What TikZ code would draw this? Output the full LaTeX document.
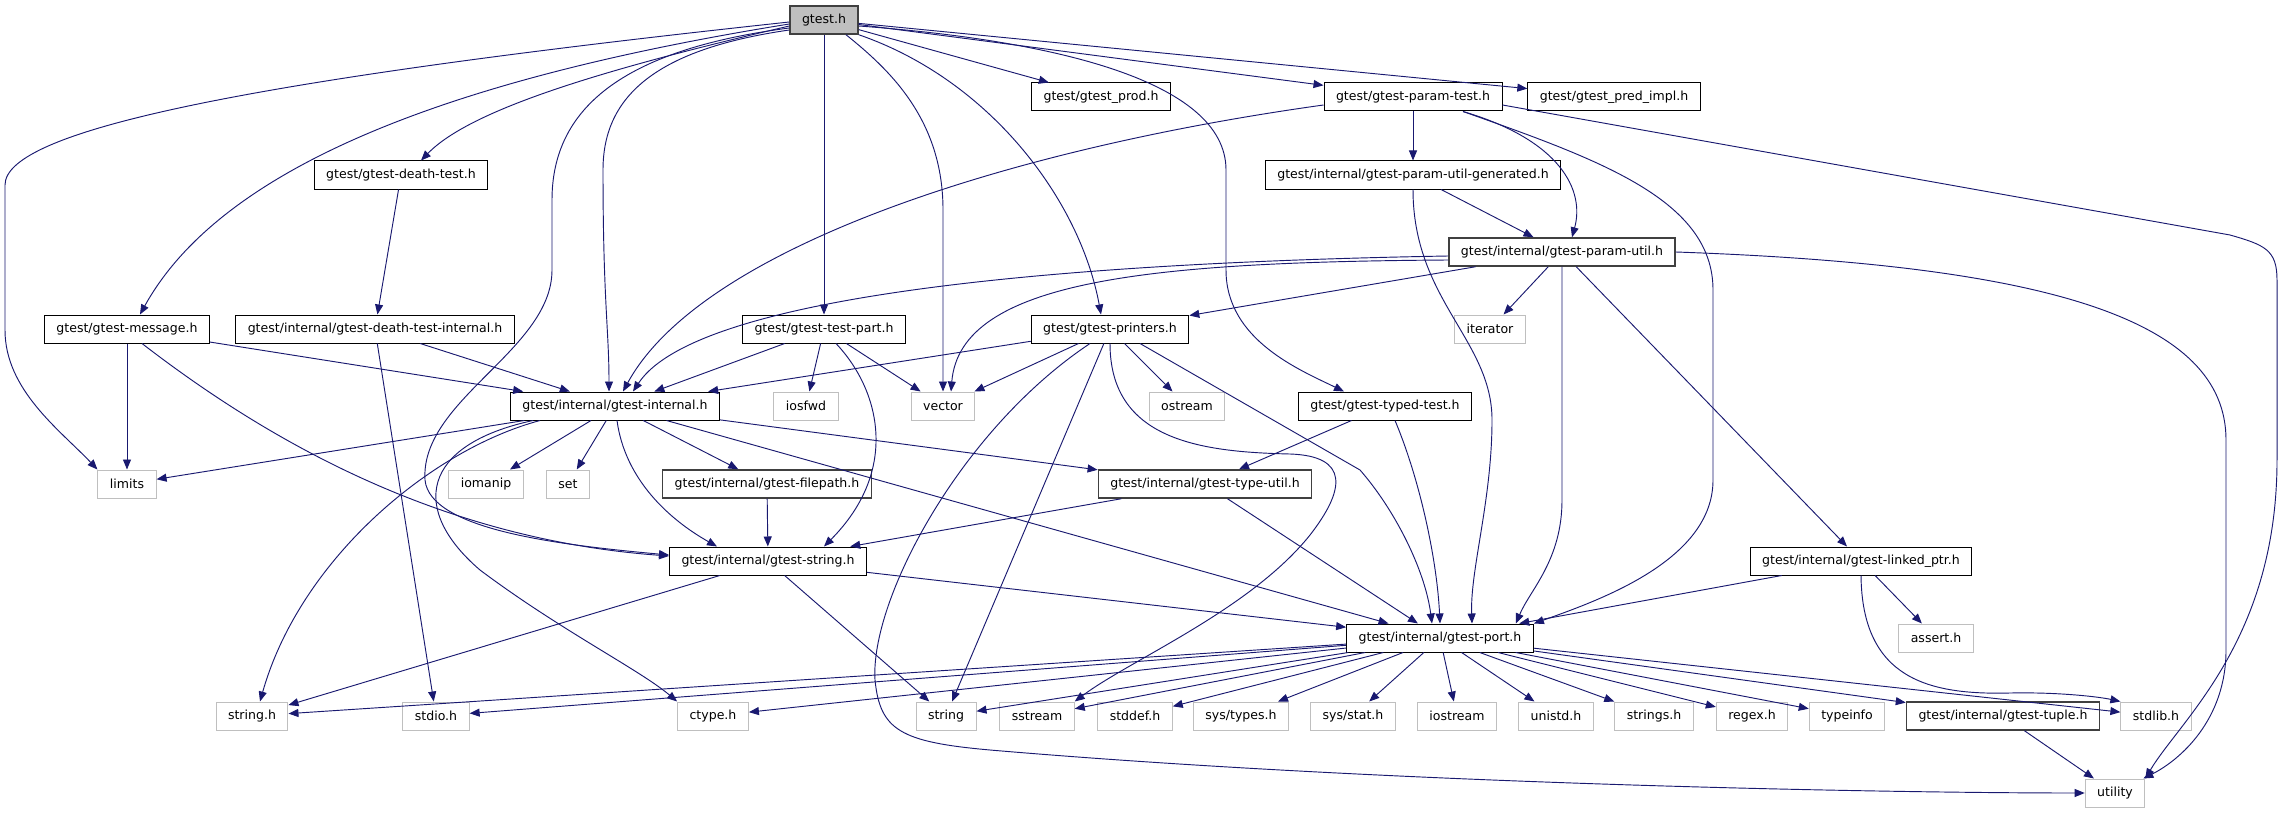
\documentclass[tikz,border=0pt]{standalone}
\usepackage{fontspec}
\setmainfont{DejaVu Sans}
\usetikzlibrary{arrows.meta,calc}
\definecolor{edgeblue}{HTML}{191970}
\definecolor{sysgray}{HTML}{BFBFBF}
\definecolor{darkborder}{HTML}{404040}

\begin{document}
\begin{tikzpicture}[x=0.75pt,y=-0.75pt,>={Triangle[length=7.5pt,width=6pt]},
  filebox/.style={rectangle,minimum height=21pt,inner xsep=9pt,inner ysep=0pt,
    font=\fontsize{9.4}{11}\selectfont,line width=0.75pt,fill=white},
  hdr/.style={filebox,draw=black},
  hdrdk/.style={filebox,draw=darkborder,line width=1.1pt},
  sys/.style={filebox,draw=sysgray},
  root/.style={filebox,draw=darkborder,fill=sysgray,line width=1.1pt},
  dep/.style={->,color=edgeblue,line width=0.7pt}]
  \useasboundingbox (0,0) rectangle (2283,813);
  \fill[white] (0,0) rectangle (2283,813);

  \node[root] (gtest) at (824,20) {gtest.h};
  \node[hdr] (prod) at (1101,97) {gtest/gtest\_prod.h};
  \node[hdr] (paramtest) at (1413,97) {gtest/gtest-param-test.h};
  \node[hdr] (predimpl) at (1614,97) {gtest/gtest\_pred\_impl.h};
  \node[hdr] (deathtest) at (401,175) {gtest/gtest-death-test.h};
  \node[hdr] (paramgen) at (1413,175) {gtest/internal/gtest-param-util-generated.h};
  \node[hdrdk] (paramutil) at (1562,252) {gtest/internal/gtest-param-util.h};
  \node[hdr] (message) at (127,329) {gtest/gtest-message.h};
  \node[hdr] (deathint) at (375,329) {gtest/internal/gtest-death-test-internal.h};
  \node[hdr] (testpart) at (824,329) {gtest/gtest-test-part.h};
  \node[hdr] (printers) at (1110,329) {gtest/gtest-printers.h};
  \node[sys] (iterator) at (1490,329) {iterator};
  \node[hdr] (internal) at (615,406) {gtest/internal/gtest-internal.h};
  \node[sys] (iosfwd) at (806,406) {iosfwd};
  \node[sys] (vector) at (943,406) {vector};
  \node[sys] (ostream) at (1187,406) {ostream};
  \node[hdr] (typedtest) at (1385,406) {gtest/gtest-typed-test.h};
  \node[sys] (limits) at (127,484) {limits};
  \node[sys] (iomanip) at (486,484) {iomanip};
  \node[sys] (set) at (568,484) {set};
  \node[hdrdk] (filepath) at (767,484) {gtest/internal/gtest-filepath.h};
  \node[hdrdk] (typeutil) at (1205,484) {gtest/internal/gtest-type-util.h};
  \node[hdr] (gstring) at (768,561) {gtest/internal/gtest-string.h};
  \node[hdr] (linkedptr) at (1861,561) {gtest/internal/gtest-linked\_ptr.h};
  \node[hdr] (port) at (1440,638) {gtest/internal/gtest-port.h};
  \node[sys] (assert) at (1936,638) {assert.h};
  \node[sys] (stringh) at (252,716) {string.h};
  \node[sys] (stdio) at (436,716) {stdio.h};
  \node[sys] (ctype) at (713,716) {ctype.h};
  \node[sys] (string) at (946,716) {string};
  \node[sys] (sstream) at (1037,716) {sstream};
  \node[sys] (stddef) at (1135,716) {stddef.h};
  \node[sys] (systypes) at (1241,716) {sys/types.h};
  \node[sys] (sysstat) at (1353,716) {sys/stat.h};
  \node[sys] (iostream) at (1457,716) {iostream};
  \node[sys] (unistd) at (1556,716) {unistd.h};
  \node[sys] (stringsh) at (1654,716) {strings.h};
  \node[sys] (regex) at (1752,716) {regex.h};
  \node[sys] (typeinfo) at (1847,716) {typeinfo};
  \node[hdrdk] (tuple) at (2003,716) {gtest/internal/gtest-tuple.h};
  \node[sys] (stdlib) at (2156,716) {stdlib.h};
  \node[sys] (utility) at (2115,793) {utility};

  \path[dep] (gtest) edge (prod)
                     edge (paramtest)
                     edge (predimpl)
                     edge (testpart)
        (paramtest) edge (paramgen)
        (paramgen) edge (paramutil)
        (paramutil) edge (printers)
                    edge (iterator)
                    edge (linkedptr)
        (deathtest) edge (deathint)
        (message) edge (limits)
                  edge (internal)
        (deathint) edge (internal)
                   edge (stdio)
        (testpart) edge (internal)
                   edge (iosfwd)
                   edge (vector)
        (printers) edge (internal)
                   edge (vector)
                   edge (ostream)
                   edge (string)
        (internal) edge (limits)
                   edge (iomanip)
                   edge (set)
                   edge (filepath)
                   edge (typeutil)
                   edge (port)
        (filepath) edge (gstring)
        (typeutil) edge (gstring)
                   edge (port)
        (typedtest) edge (typeutil)
        (gstring) edge (stringh)
                  edge (string)
                  edge (port)
        (linkedptr) edge (port)
                    edge (assert)
        (port) edge (stringh)
               edge (stdio)
               edge (ctype)
               edge (string)
               edge (sstream)
               edge (stddef)
               edge (systypes)
               edge (sysstat)
               edge (iostream)
               edge (unistd)
               edge (stringsh)
               edge (regex)
               edge (typeinfo)
               edge (tuple)
               edge (stdlib)
        (tuple) edge (utility);

  \draw[dep] ($(gtest.west)+(0,2)$) .. controls (250,80) and (5,130) .. (5,185)
    -- (5,330) .. controls (5,390) and (60,430) .. (limits.north west);
  \draw[dep] ($(gtest.west)+(0,4)$) .. controls (440,80) and (220,170) .. ($(message.north)+(13,0)$);
  \draw[dep] ($(gtest.west)+(0,6)$) .. controls (600,70) and (470,110) .. ($(deathtest.north)+(20,0)$);
  \draw[dep] ($(gtest.west)+(0,8)$) .. controls (620,50) and (552,110) .. (552,200)
    -- (552,270) .. controls (552,350) and (420,400) .. (425,480)
    .. controls (430,530) and (560,545) .. ($(gstring.west)+(0,-6)$);
  \draw[dep] ($(gtest.west)+(0,10)$) .. controls (650,50) and (603,100) .. (603,170)
    .. controls (603,300) and (609,330) .. ($(internal.north)+(-6,0)$);
  \draw[dep] ($(gtest.south)+(22,0)$) .. controls (890,70) and (943,120) .. (943,210) -- (vector);
  \draw[dep] (gtest.south east) .. controls (990,80) and (1080,200) .. ($(printers.north)+(-9,0)$);
  \draw[dep] ($(gtest.east)+(0,6)$) .. controls (1050,40) and (1226,80) .. (1226,170)
    -- (1226,270) .. controls (1226,340) and (1300,370) .. ($(typedtest.north)+(-41,0)$);

  \draw[dep] ($(paramtest.west)+(0,8)$) .. controls (1000,150) and (700,250) .. ($(internal.north)+(8,0)$);
  \draw[dep] ($(paramtest.south)+(50,0)$) .. controls (1560,140) and (1585,190) .. ($(paramutil.north)+(10,0)$);
  \draw[dep] ($(paramtest.south)+(50,0)$) .. controls (1600,160) and (1713,200) .. (1713,290)
    -- (1713,480) .. controls (1713,560) and (1600,600) .. (port.north east);
  \draw[dep] ($(paramtest.east)+(0,8)$) -- (2230,235) .. controls (2265,245) and (2277,250) .. (2277,280)
    -- (2277,460) .. controls (2277,640) and (2180,720) .. (utility.north east);
  \draw[dep] (paramgen.south) .. controls (1413,300) and (1492,340) .. (1492,420)
    .. controls (1492,500) and (1470,570) .. ($(port.north)+(32,0)$);

  \draw[dep] ($(paramutil.west)+(0,4)$) .. controls (1100,262) and (700,290) .. ($(internal.north)+(18,0)$);
  \draw[dep] ($(paramutil.west)+(0,8)$) .. controls (1150,262) and (960,280) .. ($(vector.north)+(8,0)$);
  \draw[dep] (paramutil.south) -- (1562,500) .. controls (1562,560) and (1530,590) .. ($(port.north east)+(-18,0)$);
  \draw[dep] (paramutil.east) .. controls (2050,265) and (2226,320) .. (2226,440)
    -- (2226,650) .. controls (2226,720) and (2180,760) .. ($(utility.north east)+(-2,0)$);

  \draw[dep] (printers.south) .. controls (1110,440) and (1200,452) .. (1290,454)
    .. controls (1350,456) and (1345,490) .. (1310,535)
    .. controls (1250,610) and (1130,660) .. (sstream.north east);
  \draw[dep] ($(printers.south)+(-20,0)$) .. controls (960,430) and (870,600) .. (875,680)
    .. controls (880,730) and (900,742) .. (990,750)
    .. controls (1400,785) and (1900,793) .. (utility.west);
  \draw[dep] ($(printers.south)+(30,0)$) -- (1360,470) .. controls (1395,510) and (1425,570) .. ($(port.north)+(-8,0)$);

  \draw[dep] ($(message.south)+(15,0)$) .. controls (280,450) and (450,540) .. ($(gstring.west)+(0,-5)$);
  \draw[dep] ($(testpart.south)+(12,0)$) .. controls (880,390) and (900,470) .. ($(gstring.north)+(56,0)$);

  \draw[dep] ($(internal.south)+(-75,0)$) .. controls (430,450) and (300,560) .. ($(stringh.north)+(8,0)$);
  \draw[dep] ($(internal.south)+(-82,0)$) .. controls (420,445) and (410,510) .. (480,570)
    .. controls (560,630) and (640,670) .. (ctype.north west);
  \draw[dep] ($(internal.south)+(2,0)$) .. controls (625,480) and (670,520) .. ($(gstring.north)+(-51,0)$);

  \draw[dep] ($(typedtest.south)+(10,0)$) .. controls (1420,480) and (1437,560) .. (port.north);
  \draw[dep] (linkedptr.south) .. controls (1862,680) and (1930,695) .. (2010,693)
    .. controls (2060,692) and (2100,697) .. (stdlib.north west);
\end{tikzpicture}
\end{document}
